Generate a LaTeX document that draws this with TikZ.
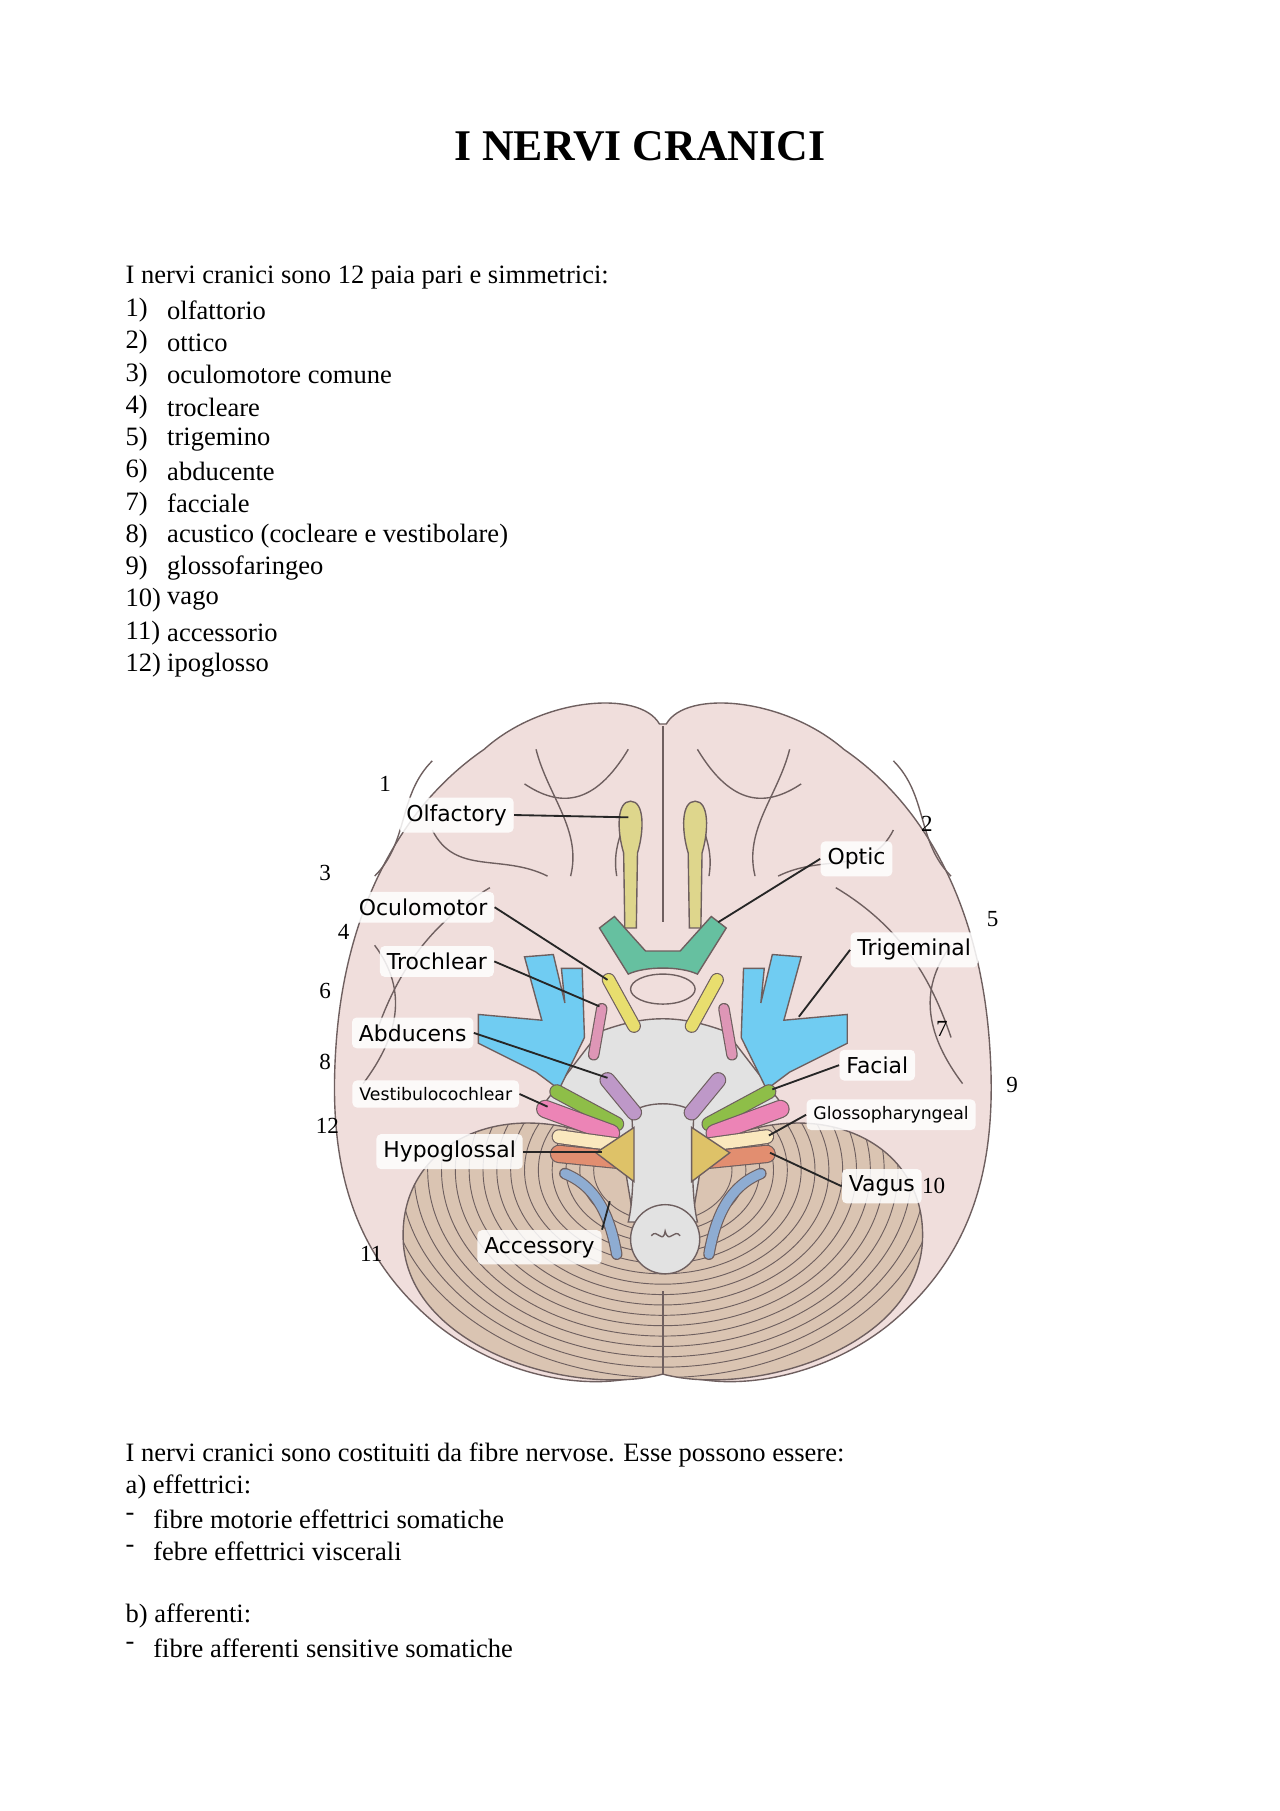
\documentclass[tikz,border=0pt]{standalone}
\usepackage{fontspec}
\setmainfont{Liberation Serif}
\newfontfamily\labelfont{DejaVu Sans}
\usetikzlibrary{positioning}
\definecolor{brainpink}{RGB}{240,222,220}
\definecolor{cerebtan}{RGB}{218,196,178}
\definecolor{stemgray}{RGB}{226,226,226}
\definecolor{chiasm}{RGB}{102,192,160}
\definecolor{olfcol}{RGB}{222,214,140}
\definecolor{oculcol}{RGB}{232,222,110}
\definecolor{trochcol}{RGB}{222,150,182}
\definecolor{trigcol}{RGB}{112,204,242}
\definecolor{abducol}{RGB}{190,152,200}
\definecolor{facialcol}{RGB}{142,190,72}
\definecolor{vestcol}{RGB}{236,132,182}
\definecolor{glosscol}{RGB}{250,232,190}
\definecolor{vaguscol}{RGB}{226,142,112}
\definecolor{hypocol}{RGB}{222,194,104}
\definecolor{accescol}{RGB}{142,172,210}
\definecolor{edgecol}{RGB}{110,95,95}

\begin{document}
\begin{tikzpicture}[x=0.5pt,y=-0.5pt,
  outline/.style={draw=edgecol,line width=0.6pt},
  nerve/.style={line width=#1,line cap=round},
  tag/.style={fill=white,fill opacity=0.85,text opacity=1,rounded corners=2pt,font=\labelfont\fontsize{9.5}{11}\selectfont,inner sep=3pt},
  smalltag/.style={tag,font=\labelfont\fontsize{7.5}{9}\selectfont},
  pointer/.style={draw=black!85,line width=0.8pt},
  num/.style={font=\fontsize{10}{12}\selectfont},
  mirror/.style={xshift=287.5pt,xscale=#1},
  line/.style={anchor=west,font=\fontsize{11.5}{14}\selectfont}]
\useasboundingbox[fill=white] (0,0) rectangle (1110,1571);

% title and list
\node[font=\bfseries\fontsize{19}{23}\selectfont] (title) at (555,127) {I NERVI CRANICI};
\node[line] (intro) at (102,241) {I nervi cranici sono 12 paia pari e simmetrici:};
\foreach \n/\w [count=\i] in {1)/olfattorio,2)/ottico,3)/oculomotore comune,4)/trocleare,5)/trigemino,6)/abducente,7)/facciale,8)/acustico (cocleare e vestibolare),9)/glossofaringeo,10)/vago,11)/accessorio,12)/ipoglosso}{
  \node[line] (n\i) at (102,241+28*\i) {\n};
  \node[line] (w\i) at (138,241+28*\i) {\w};
}

% brain
\path[outline,fill=brainpink] (572,628) .. controls (555,598) and (470,605) .. (420,650)
  .. controls (340,705) and (300,800) .. (292,900) .. controls (284,1000) and (300,1085) .. (380,1150)
  .. controls (450,1205) and (540,1208) .. (575,1185) .. controls (610,1208) and (700,1205) .. (770,1150)
  .. controls (850,1085) and (866,1000) .. (858,900) .. controls (850,800) and (812,705) .. (732,650)
  .. controls (680,605) and (595,598) .. (578,628) -- cycle;
\draw[outline] (575,630) -- (575,800);
\foreach \s in {1,-1}{
  \begin{scope}[mirror=\s]
    \draw[outline] (-30,650) .. controls (-60,700) and (-90,700) .. (-120,680);
    \draw[outline] (-100,760) .. controls (-140,740) and (-180,760) .. (-200,720);
    \draw[outline] (-150,770) .. controls (-200,800) and (-230,840) .. (-250,900);
    \draw[outline] (-200,660) .. controls (-230,690) and (-220,730) .. (-250,760);
    \draw[outline] (-40,760) .. controls (-45,730) and (-30,720) .. (-35,700);
    \draw[outline] (-110,650) .. controls (-100,690) and (-70,720) .. (-80,760);
    \draw[outline] (-250,820) .. controls (-220,860) and (-230,900) .. (-260,940);
  \end{scope}
}
% cerebellum
\path[outline,fill=cerebtan] (575,1192) .. controls (500,1212) and (358,1172) .. (350,1080)
  .. controls (344,1000) and (420,958) .. (500,980) -- (575,1000) -- (650,980)
  .. controls (730,958) and (806,1000) .. (800,1080) .. controls (792,1172) and (650,1212) .. (575,1192) -- cycle;
\begin{scope}
  \clip (575,1192) .. controls (500,1212) and (358,1172) .. (350,1080)
    .. controls (344,1000) and (420,958) .. (500,980) -- (575,1000) -- (650,980)
    .. controls (730,958) and (806,1000) .. (800,1080) .. controls (792,1172) and (650,1212) .. (575,1192) -- cycle;
  \foreach \r in {60,72,...,250}{
    \draw[edgecol,line width=0.4pt] (575,1015) ellipse ({\r} and {0.75*\r});
  }
\end{scope}
\draw[outline] (575,1120) -- (575,1192);
% brainstem
\path[outline,fill=stemgray] (520,895) .. controls (560,880) and (590,880) .. (630,895)
  -- (680,960) -- (610,1000) -- (600,1060) -- (550,1060) -- (540,1000) -- (470,960) -- cycle;
\path[outline,fill=stemgray] (548,965) .. controls (560,955) and (590,955) .. (602,965)
  .. controls (600,1000) and (600,1040) .. (605,1060) -- (545,1060) .. controls (550,1040) and (550,1000) .. (548,965) -- cycle;
\path[outline,fill=stemgray] (577,1075) circle (30);
\draw[outline] (565,1072) .. controls (570,1065) and (575,1080) .. (577,1068) .. controls (580,1080) and (585,1065) .. (590,1072);
% olfactory and chiasm
\foreach \s in {-28,28}{
  \path[outline,fill=olfcol] (575+\s,695) .. controls (587+\s,695) and (587+\s,720) .. (581+\s,740)
    -- (580+\s,805) -- (570+\s,805) -- (569+\s,740) .. controls (563+\s,720) and (563+\s,695) .. (575+\s,695) -- cycle;
}
\path[outline,fill=chiasm] (520,805) -- (533,795) -- (560,825) -- (590,825) -- (617,795) -- (630,805)
  -- (605,845) .. controls (590,838) and (560,838) .. (545,845) -- cycle;
\path[outline,fill=brainpink] (575,858) ellipse (28 and 13);
% paired nerves
\foreach \s in {1,-1}{
  \begin{scope}[mirror=\s]
    \draw[edgecol,nerve=6pt] (-47,850) -- (-25,890);
    \draw[oculcol,nerve=5pt] (-47,850) -- (-25,890);
    \draw[edgecol,nerve=5pt] (-53,875) -- (-60,915);
    \draw[trochcol,nerve=4pt] (-53,875) -- (-60,915);
    \path[outline,fill=trigcol] (-160,880) -- (-105,885) -- (-120,830) -- (-95,828) -- (-85,870) -- (-88,840) -- (-70,840)
      -- (-68,900) -- (-90,945) -- (-110,930) -- (-160,905) -- cycle;
    \draw[edgecol,nerve=7pt] (-48,937) -- (-25,965);
    \draw[abducol,nerve=6pt] (-48,937) -- (-25,965);
    \draw[edgecol,nerve=6.5pt] (-92,947) -- (-40,975);
    \draw[facialcol,nerve=5.5pt] (-92,947) -- (-40,975);
    \draw[edgecol,nerve=8pt] (-102,962) -- (-45,983);
    \draw[vestcol,nerve=7pt] (-102,962) -- (-45,983);
    \draw[edgecol,nerve=6.5pt] (-90,986) -- (-40,993);
    \draw[glosscol,nerve=5.5pt] (-90,986) -- (-40,993);
    \draw[edgecol,nerve=8pt] (-90,1001) -- (-40,1006);
    \draw[vaguscol,nerve=7pt] (-90,1001) -- (-40,1006);
    \path[outline,fill=hypocol] (-58,1000) -- (-25,978) -- (-25,1025) -- cycle;
    \draw[edgecol,nerve=5pt] (-85,1018) .. controls (-55,1030) and (-45,1060) .. (-40,1088);
    \draw[accescol,nerve=4pt] (-85,1018) .. controls (-55,1030) and (-45,1060) .. (-40,1088);
  \end{scope}
}
% labels
\node[tag] (olf) at (396,707) {Olfactory};
\node[tag] (opt) at (743,745) {Optic};
\node[tag] (ocu) at (367,787) {Oculomotor};
\node[tag] (tro) at (379,834) {Trochlear};
\node[tag] (tri) at (793,824) {Trigeminal};
\node[tag] (abd) at (358,896) {Abducens};
\node[tag] (fac) at (761,924) {Facial};
\node[smalltag] (ves) at (378,949) {Vestibulocochlear};
\node[smalltag] (glo) at (773,967) {Glossopharyngeal};
\node[tag] (hyp) at (390,999) {Hypoglossal};
\node[tag] (vag) at (765,1029) {Vagus};
\node[tag] (acc) at (468,1082) {Accessory};
\coordinate (olfend) at (545,709);
\coordinate (optend) at (623,800);
\coordinate (ocuend) at (527,850);
\coordinate (troend) at (520,873);
\coordinate (triend) at (693,882);
\coordinate (abdend) at (527,935);
\coordinate (facend) at (670,945);
\coordinate (vesend) at (475,960);
\coordinate (gloend) at (667,985);
\coordinate (hypend) at (522,999);
\coordinate (vagend) at (668,1000);
\coordinate (accend) at (529,1042);
\draw[pointer] (olf.east) -- (olfend);
\draw[pointer] (opt.west) -- (optend);
\draw[pointer] (ocu.east) -- (ocuend);
\draw[pointer] (tro.east) -- (troend);
\draw[pointer] (tri.west) -- (triend);
\draw[pointer] (abd.east) -- (abdend);
\draw[pointer] (fac.west) -- (facend);
\draw[pointer] (ves.east) -- (vesend);
\draw[pointer] (glo.west) -- (gloend);
\draw[pointer] (hyp.east) -- (hypend);
\draw[pointer] (vag.west) -- (vagend);
\draw[pointer] (acc.north east) -- (accend);
% numbers
\foreach \t/\px/\py in {1/334/680,2/804/715,3/282/757,4/298/808,5/861/797,6/282/860,7/817/893,8/282/921,9/878/941,12/284/977,10/810/1029,11/322/1088}
  \node[num] (k\t) at (\px,\py) {\t};

% bottom text
\node[line] (fib) at (102,1262) {I nervi cranici sono costituiti da fibre nervose. Esse possono essere:};
\node[line] (effa) at (102,1290) {a) effettrici:};
\node[line] (d1) at (102,1316) {-};
\node[line] (e1) at (126,1318) {fibre motorie effettrici somatiche};
\node[line] (d2) at (102,1344) {-};
\node[line] (e2) at (126,1346) {febre effettrici viscerali};
\node[line] (affb) at (102,1402) {b) afferenti:};
\node[line] (d3) at (102,1428) {-};
\node[line] (e3) at (126,1430) {fibre afferenti sensitive somatiche};
\end{tikzpicture}
\end{document}
